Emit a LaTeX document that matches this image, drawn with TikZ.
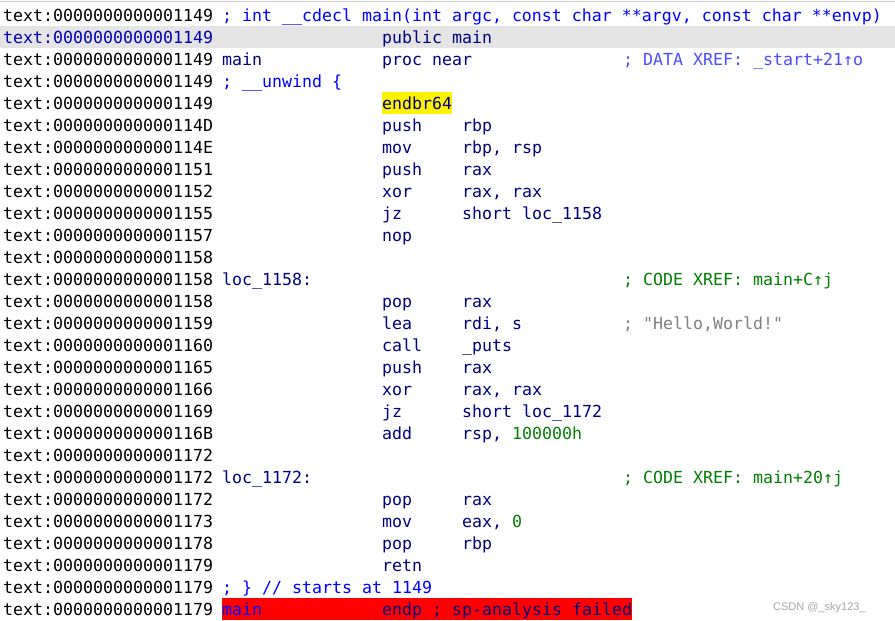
\documentclass[tikz,border=0pt]{standalone}
\usepackage{fontspec}
\setmonofont{DejaVu Sans Mono}
\setsansfont{Liberation Sans}
\definecolor{navy}{HTML}{000080}
\definecolor{lblue}{HTML}{0000FF}
\definecolor{cgreen}{HTML}{008000}
\definecolor{hl}{HTML}{E4E4E4}
\begin{document}
\begin{tikzpicture}[x=1pt,y=1pt,
  t/.style={anchor=base west,inner sep=0pt,font=\fontsize{16.6}{18}\ttfamily},
  ad/.style={t,black},
  mn/.style={t,navy},
  bl/.style={t,lblue},
  gr/.style={t,cgreen}]
\useasboundingbox (0,0) rectangle (895,-621);
\fill[white] (0,0) rectangle (895,-621);
\draw[gray!40] (0,-1.5) -- (895,-1.5);
\fill[hl] (0,-26) rectangle (895,-48);
\fill[yellow] (382,-92) rectangle (452,-114);
\fill[red] (222,-598) rectangle (632,-620);
\def\addrs{1149,1149,1149,1149,1149,114D,114E,1151,1152,1155,1157,1158,1158,1158,1159,1160,1165,1166,1169,116B,1172,1172,1172,1173,1178,1179,1179,1179}
\foreach \a [count=\i from 0] in \addrs {
  \pgfmathsetmacro\yy{-(21+22*\i)}
  \ifnum\i=1
    \node[t,navy!60!lblue] (a\i) at (3,\yy) {text:000000000000\a};
  \else
    \node[ad] (a\i) at (3,\yy) {text:000000000000\a};
  \fi
}
\newcommand\ry[1]{-(21+22*#1)}
\node[bl] (c0) at (222,{\ry{0}}) {; int \_\_cdecl main(int argc, const char **argv, const char **envp)};
\node[mn] (m1) at (382,{\ry{1}}) {public main};
\node[mn] (l2) at (222,{\ry{2}}) {main};
\node[mn] (m2) at (382,{\ry{2}}) {proc near};
\node[bl,lblue!70!white] (x2) at (623,{\ry{2}}) {; DATA XREF: \_start+21↑o};
\node[bl] (c3) at (222,{\ry{3}}) {; \_\_unwind \{};
\node[mn] (m4) at (382,{\ry{4}}) {endbr64};
\node[mn] (m5) at (382,{\ry{5}}) {push};  \node[mn] (o5) at (462,{\ry{5}}) {rbp};
\node[mn] (m6) at (382,{\ry{6}}) {mov};   \node[mn] (o6) at (462,{\ry{6}}) {rbp, rsp};
\node[mn] (m7) at (382,{\ry{7}}) {push};  \node[mn] (o7) at (462,{\ry{7}}) {rax};
\node[mn] (m8) at (382,{\ry{8}}) {xor};   \node[mn] (o8) at (462,{\ry{8}}) {rax, rax};
\node[mn] (m9) at (382,{\ry{9}}) {jz};    \node[mn] (o9) at (462,{\ry{9}}) {short loc\_1158};
\node[mn] (m10) at (382,{\ry{10}}) {nop};
\node[mn] (l12) at (222,{\ry{12}}) {loc\_1158:};
\node[gr] (x12) at (623,{\ry{12}}) {; CODE XREF: main+C↑j};
\node[mn] (m13) at (382,{\ry{13}}) {pop};   \node[mn] (o13) at (462,{\ry{13}}) {rax};
\node[mn] (m14) at (382,{\ry{14}}) {lea};   \node[mn] (o14) at (462,{\ry{14}}) {rdi, s};
\node[t,gray] (x14) at (623,{\ry{14}}) {; "Hello,World!"};
\node[mn] (m15) at (382,{\ry{15}}) {call};  \node[mn] (o15) at (462,{\ry{15}}) {\_puts};
\node[mn] (m16) at (382,{\ry{16}}) {push};  \node[mn] (o16) at (462,{\ry{16}}) {rax};
\node[mn] (m17) at (382,{\ry{17}}) {xor};   \node[mn] (o17) at (462,{\ry{17}}) {rax, rax};
\node[mn] (m18) at (382,{\ry{18}}) {jz};    \node[mn] (o18) at (462,{\ry{18}}) {short loc\_1172};
\node[mn] (m19) at (382,{\ry{19}}) {add};   \node[mn] (o19) at (462,{\ry{19}}) {rsp, \textcolor{cgreen}{100000h}};
\node[mn] (l21) at (222,{\ry{21}}) {loc\_1172:};
\node[gr] (x21) at (623,{\ry{21}}) {; CODE XREF: main+20↑j};
\node[mn] (m22) at (382,{\ry{22}}) {pop};   \node[mn] (o22) at (462,{\ry{22}}) {rax};
\node[mn] (m23) at (382,{\ry{23}}) {mov};   \node[mn] (o23) at (462,{\ry{23}}) {eax, \textcolor{cgreen}{0}};
\node[mn] (m24) at (382,{\ry{24}}) {pop};   \node[mn] (o24) at (462,{\ry{24}}) {rbp};
\node[mn] (m25) at (382,{\ry{25}}) {retn};
\node[bl] (c26) at (222,{\ry{26}}) {; \} // starts at 1149};
\node[bl] (l27) at (222,{\ry{27}}) {main};
\node[mn] (m27) at (382,{\ry{27}}) {endp ; sp-analysis failed};
\node[anchor=base west,inner sep=0pt,font=\sffamily\fontsize{11}{12}\selectfont,gray!70] (wm) at (773,-610) {CSDN @\_sky123\_};
\end{tikzpicture}
\end{document}
